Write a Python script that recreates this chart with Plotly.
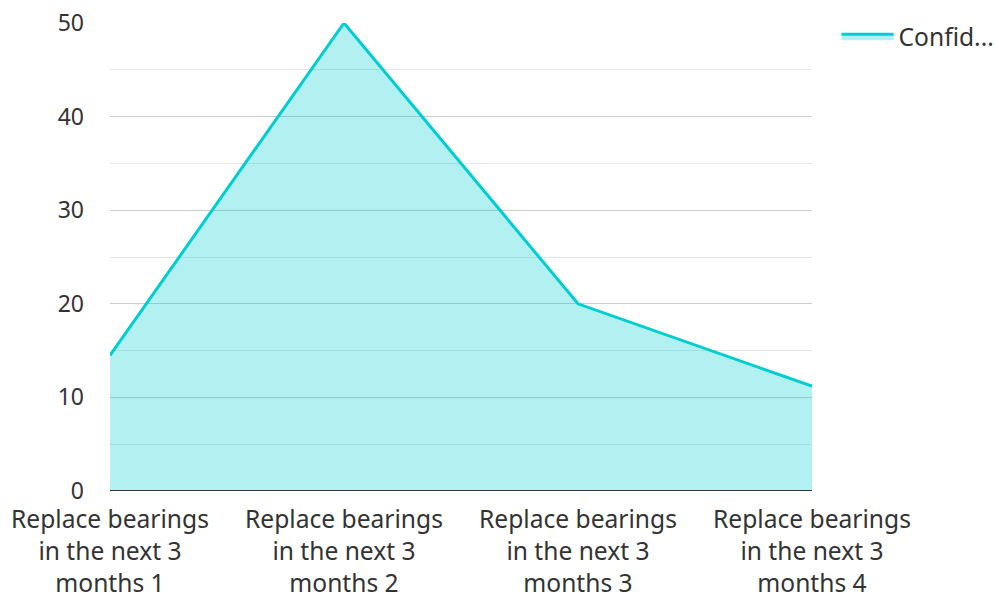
import plotly.graph_objects as go

categories = ["Replace bearings<br>in the next 3<br>months 1",
              "Replace bearings<br>in the next 3<br>months 2",
              "Replace bearings<br>in the next 3<br>months 3",
              "Replace bearings<br>in the next 3<br>months 4"]
values = [14.5, 50, 20, 11.2]
series_name = "Confid..."

fig = go.Figure()
fig.add_trace(go.Scatter(
    x=categories, y=values, mode="lines", name=series_name,
    line=dict(color="#00CED1", width=3),
    fill="tozeroy", fillcolor="rgba(0,206,209,0.3)",
))

fig.update_layout(
    width=994, height=595,
    margin=dict(l=110, r=182, t=23, b=104, autoexpand=False),
    paper_bgcolor="white", plot_bgcolor="white",
    font=dict(family="Noto Sans", size=24, color="#333333"),
    showlegend=True,
    legend=dict(x=1.035, y=1.02, xanchor="left", yanchor="top", itemwidth=52,
                font=dict(size=24.6, color="#333333"), bgcolor="rgba(0,0,0,0)"),
    xaxis=dict(range=[0, 3], showgrid=False, showline=False, zeroline=False, automargin=False,
               ticks="", tickfont=dict(size=24.6, color="#333333"), ticklabelstandoff=11),
    yaxis=dict(range=[0, 50], dtick=10, showgrid=True, gridcolor="#cccccc", gridwidth=1,
               zeroline=False, showline=False, ticks="", automargin=False,
               tickfont=dict(size=23, color="#333333"), ticklabelstandoff=25,
               minor=dict(dtick=5, showgrid=True, gridcolor="#e6e6e6", gridwidth=1)),
)
fig.add_shape(type="line", xref="paper", yref="y", x0=0, x1=1, y0=0, y1=0,
              line=dict(color="#333333", width=2))
fig.write_html("out.html")
